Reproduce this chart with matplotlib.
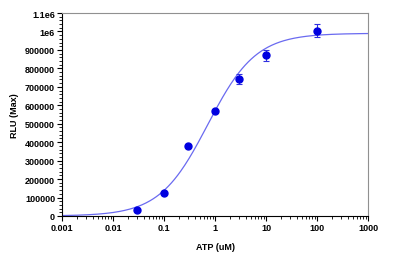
import numpy as np
import matplotlib
matplotlib.use("Agg")
import matplotlib.pyplot as plt
from matplotlib.ticker import FixedLocator, MultipleLocator, LogLocator, NullFormatter

plt.rcParams["font.family"] = ["Liberation Sans", "DejaVu Sans"]
plt.rcParams["font.weight"] = "bold"

# measured points
atp_um = [0.03, 0.1, 0.3, 1, 3, 10, 100]
rlu_max = [32500, 123000, 379000, 570000, 744000, 870000, 1004000]
rlu_err = [0, 0, 0, 0, 27000, 30000, 34000]

# fitted curve parameters (bottom, top, EC50, hill)
FIT_BOTTOM = 0
FIT_TOP = 990000
FIT_EC50 = 0.72
FIT_HILL = 0.92

y_ticks = [0, 100000, 200000, 300000, 400000, 500000, 600000,
           700000, 800000, 900000, 1000000, 1100000]
y_tick_labels = ["0", "100000", "200000", "300000", "400000", "500000",
                 "600000", "700000", "800000", "900000", "1e6", "1.1e6"]
x_ticks = [0.001, 0.01, 0.1, 1, 10, 100, 1000]
x_tick_labels = ["0.001", "0.01", "0.1", "1", "10", "100", "1000"]


def hill(x):
    return FIT_BOTTOM + (FIT_TOP - FIT_BOTTOM) / (1 + (FIT_EC50 / x) ** FIT_HILL)


fig = plt.figure(figsize=(4.0, 2.55), dpi=100)
ax = fig.add_axes([62 / 400, 1 - 217 / 255, 306 / 400, 203 / 255])

xs = np.logspace(-3, 3, 300)
ax.plot(xs, hill(xs), color="#6a6af0", lw=0.9)
ax.errorbar(atp_um, rlu_max, yerr=rlu_err, fmt="o", color="#0000e0",
            ms=5, ecolor="#3030e0", elinewidth=0.8, capsize=2.5, capthick=0.8)

ax.set_xscale("log")
ax.set_xlim(0.001, 1000)
ax.set_ylim(0, 1100000)
ax.xaxis.set_major_locator(FixedLocator(x_ticks))
ax.set_xticklabels(x_tick_labels)
ax.xaxis.set_minor_locator(LogLocator(base=10, subs=np.arange(2, 10)))
ax.xaxis.set_minor_formatter(NullFormatter())
ax.set_yticks(y_ticks)
ax.set_yticklabels(y_tick_labels)
ax.yaxis.set_minor_locator(MultipleLocator(20000))

ax.tick_params(axis="both", which="major", labelsize=6.5, length=3.5, width=0.8, pad=1.5)
ax.tick_params(axis="both", which="minor", length=2, width=0.6)
for lab in ax.get_xticklabels() + ax.get_yticklabels():
    lab.set_fontweight("bold")

ax.spines["top"].set_color("#909090")
ax.spines["right"].set_color("#909090")
ax.spines["left"].set_linewidth(0.8)
ax.spines["bottom"].set_linewidth(0.8)

ax.set_xlabel("ATP (uM)", fontsize=6.5, fontweight="bold", labelpad=7)
ax.set_ylabel("RLU (Max)", fontsize=6.5, fontweight="bold", labelpad=4)

fig.savefig("out.png", dpi=100)
